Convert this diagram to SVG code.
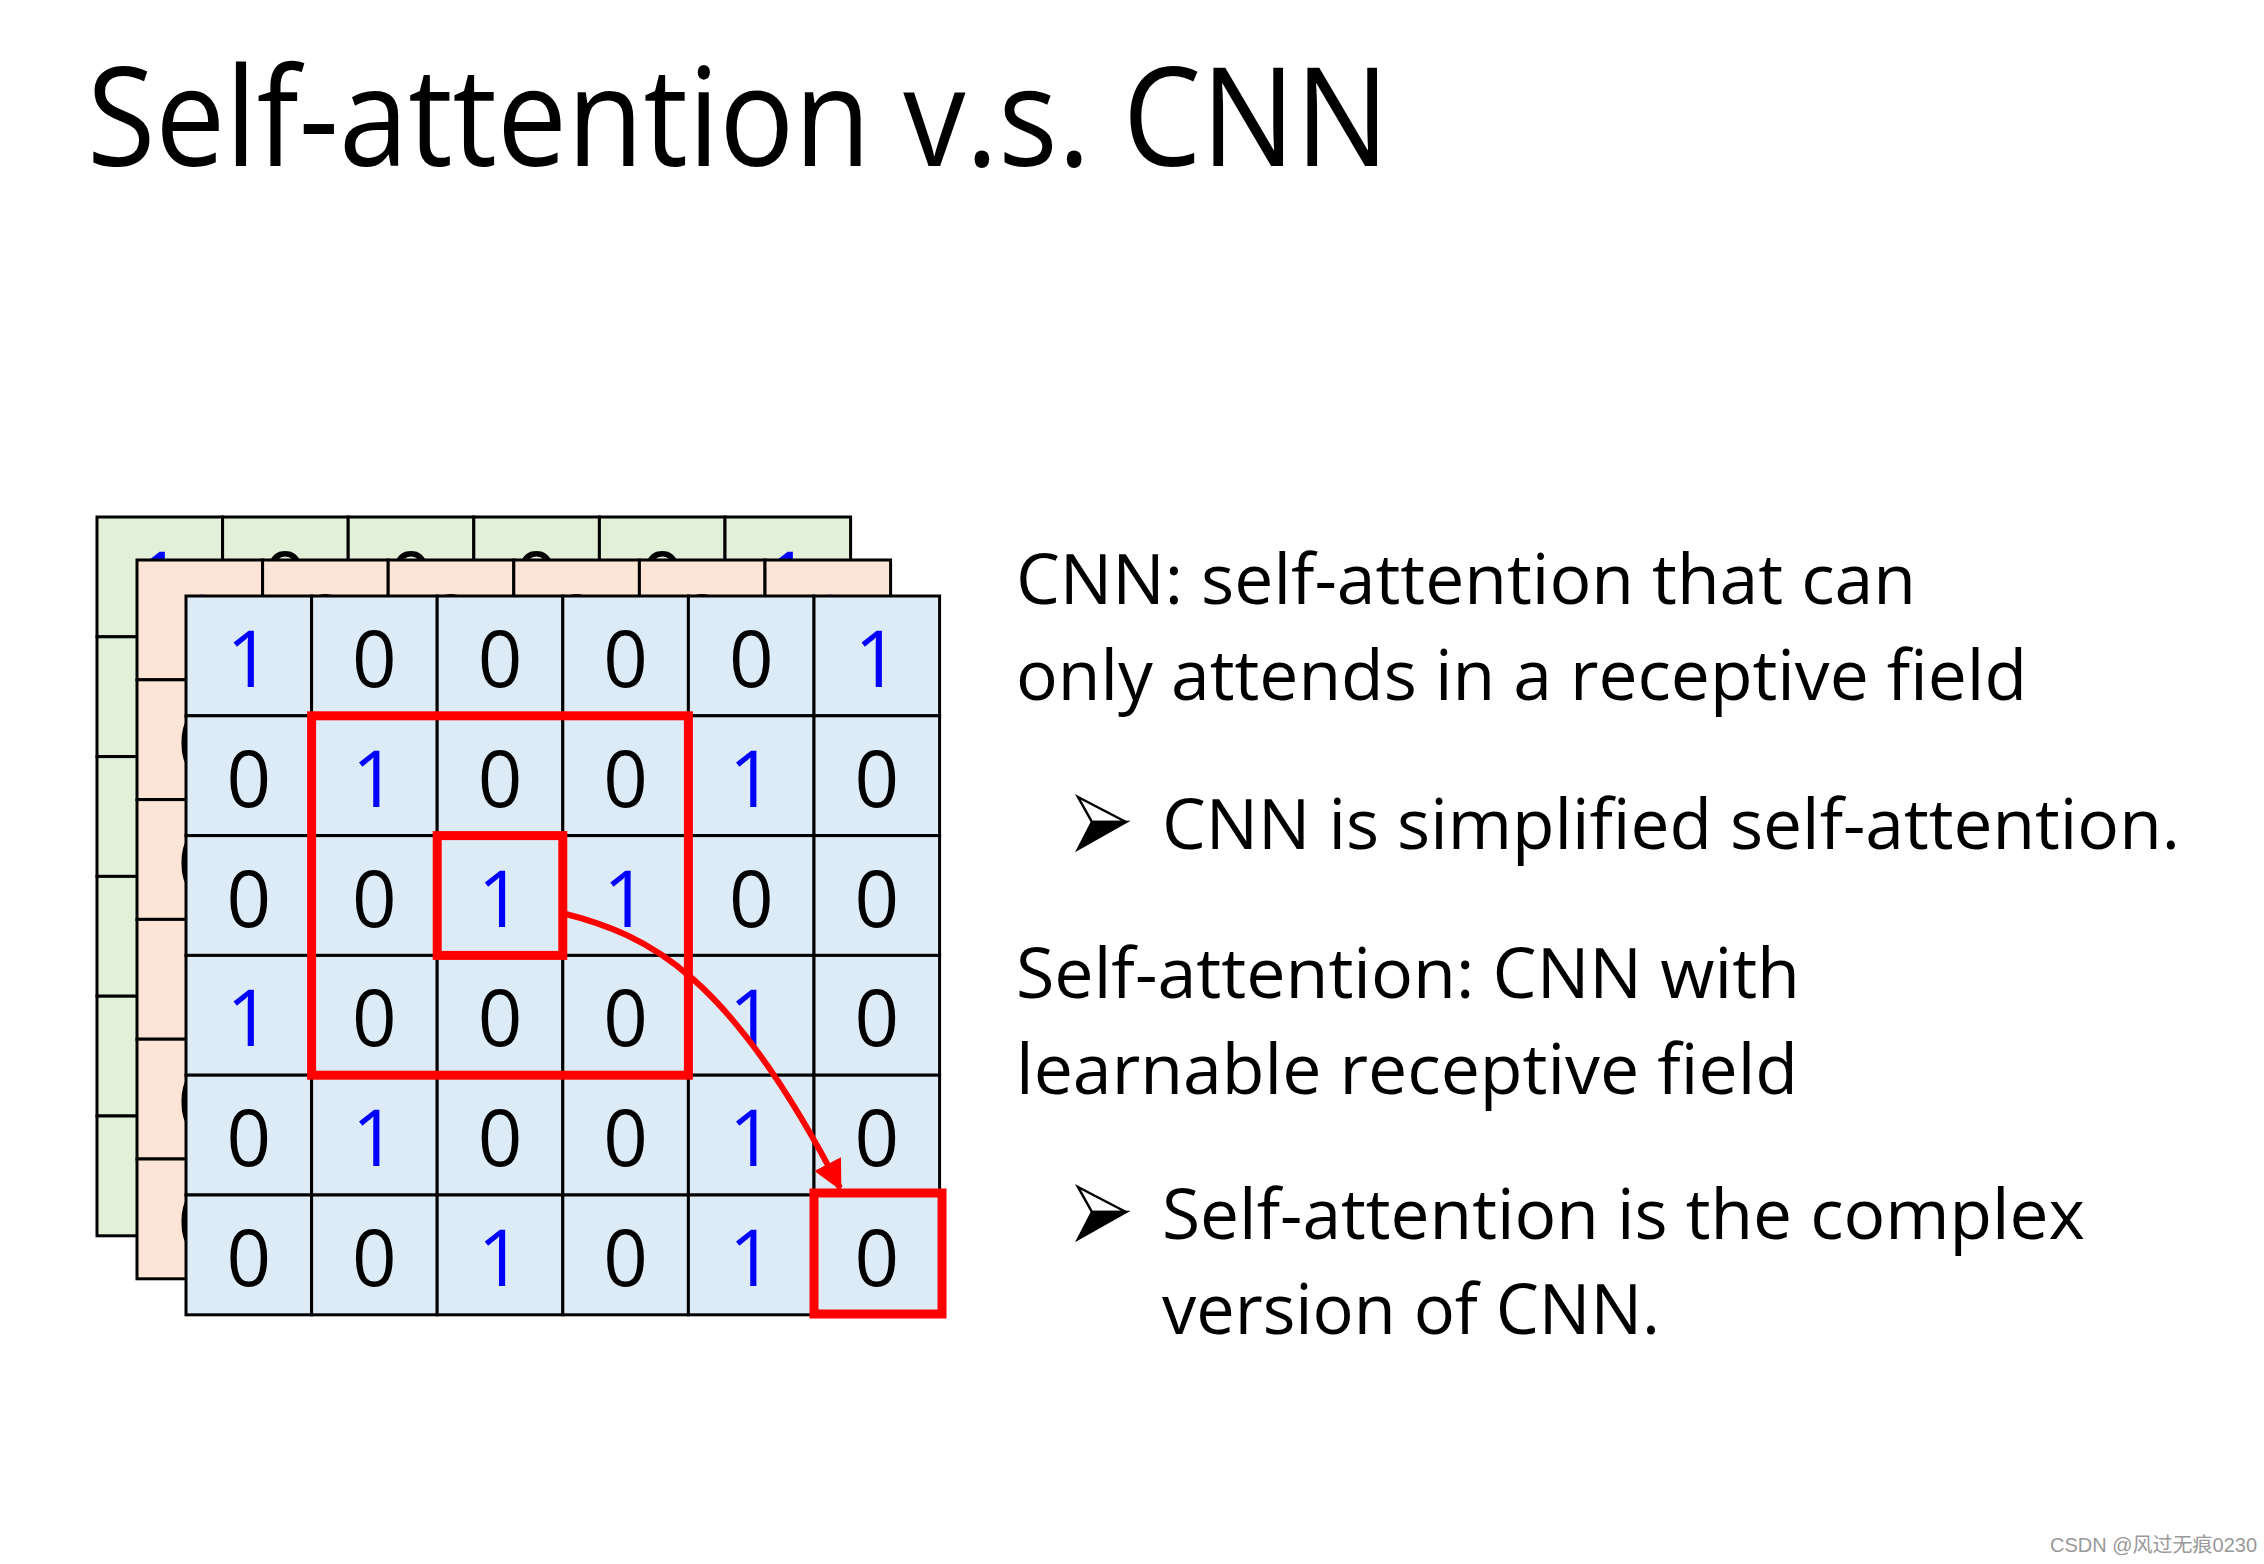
<svg xmlns="http://www.w3.org/2000/svg" width="2264" height="1564" viewBox="0 0 2264 1564">
<style>
.t{font-family:"Open Sans","Liberation Sans",sans-serif;fill:#000}
.d{font-family:"Open Sans","Liberation Sans",sans-serif;font-size:78px;text-anchor:middle}
.b{fill:#0000ff}.k{fill:#000}
.r{fill:none;stroke:#ff0000;stroke-width:9}
</style>
<defs>
<marker id="ah" viewBox="0 0 10 10" refX="9" refY="5" markerWidth="5" markerHeight="5" orient="auto"><path d="M0,0 L10,5 L0,10 z" fill="#ff0000"/></marker>
<g id="cells" stroke="#000" stroke-width="3">
<rect x="0" y="0" width="125.6" height="119.8"/><rect x="125.6" y="0" width="125.6" height="119.8"/><rect x="251.2" y="0" width="125.6" height="119.8"/><rect x="376.8" y="0" width="125.6" height="119.8"/><rect x="502.4" y="0" width="125.6" height="119.8"/><rect x="628" y="0" width="125.6" height="119.8"/>
</g>
<g id="grid">
<use href="#cells" y="0"/><use href="#cells" y="119.8"/><use href="#cells" y="239.6"/><use href="#cells" y="359.4"/><use href="#cells" y="479.2"/><use href="#cells" y="599"/>
</g>
<g id="nums">
<text class="d b" x="62.8" y="91">1</text><text class="d k" x="188.4" y="91">0</text><text class="d k" x="314" y="91">0</text><text class="d k" x="439.6" y="91">0</text><text class="d k" x="565.2" y="91">0</text><text class="d b" x="690.8" y="91">1</text>
<text class="d k" x="62.8" y="210.8">0</text><text class="d b" x="188.4" y="210.8">1</text><text class="d k" x="314" y="210.8">0</text><text class="d k" x="439.6" y="210.8">0</text><text class="d b" x="565.2" y="210.8">1</text><text class="d k" x="690.8" y="210.8">0</text>
<text class="d k" x="62.8" y="330.6">0</text><text class="d k" x="188.4" y="330.6">0</text><text class="d b" x="314" y="330.6">1</text><text class="d b" x="439.6" y="330.6">1</text><text class="d k" x="565.2" y="330.6">0</text><text class="d k" x="690.8" y="330.6">0</text>
<text class="d b" x="62.8" y="450.4">1</text><text class="d k" x="188.4" y="450.4">0</text><text class="d k" x="314" y="450.4">0</text><text class="d k" x="439.6" y="450.4">0</text><text class="d b" x="565.2" y="450.4">1</text><text class="d k" x="690.8" y="450.4">0</text>
<text class="d k" x="62.8" y="570.2">0</text><text class="d b" x="188.4" y="570.2">1</text><text class="d k" x="314" y="570.2">0</text><text class="d k" x="439.6" y="570.2">0</text><text class="d b" x="565.2" y="570.2">1</text><text class="d k" x="690.8" y="570.2">0</text>
<text class="d k" x="62.8" y="690">0</text><text class="d k" x="188.4" y="690">0</text><text class="d b" x="314" y="690">1</text><text class="d k" x="439.6" y="690">0</text><text class="d b" x="565.2" y="690">1</text><text class="d k" x="690.8" y="690">0</text>
</g>
</defs>
<rect width="2264" height="1564" fill="#fff"/>
<text class="t" x="87" y="166" font-size="137" textLength="1302" lengthAdjust="spacingAndGlyphs">Self-attention v.s. CNN</text>
<g id="layer-green" transform="translate(97,517)"><use href="#grid" fill="#e2efd9"/><use href="#nums"/></g>
<g id="layer-orange" transform="translate(137,560)"><use href="#grid" fill="#fce4d6"/><use href="#nums"/></g>
<g id="layer-blue" transform="translate(186,596)"><use href="#grid" fill="#ddebf7"/><use href="#nums"/></g>
<g id="receptive-field"><rect class="r" x="311.6" y="715.8" width="376.8" height="359.4"/></g>
<g id="center-cell"><rect class="r" x="437.2" y="835.6" width="125.6" height="119.8"/></g>
<g id="target-cell"><rect class="r" x="814" y="1193" width="128" height="121"/></g>
<g id="connectors"><path d="M562,913 C650,935 730,975 840,1188" fill="none" stroke="#ff0000" stroke-width="6" marker-end="url(#ah)"/></g>
<g id="text">
<text class="t" x="1016" y="604" font-size="69" textLength="900" lengthAdjust="spacingAndGlyphs">CNN: self-attention that can</text>
<text class="t" x="1016" y="700" font-size="69" textLength="1011" lengthAdjust="spacingAndGlyphs">only attends in a receptive field</text>
<g id="bullet1"><polygon points="1078,797 1126,822 1092,822" fill="#fff" stroke="#000" stroke-width="2.5"/><polygon points="1092,822 1126,822 1078,849" fill="#000" stroke="#000" stroke-width="2.5"/></g>
<text class="t" x="1162" y="849" font-size="69" textLength="1018" lengthAdjust="spacingAndGlyphs">CNN is simplified self-attention.</text>
<text class="t" x="1016" y="998" font-size="69" textLength="784" lengthAdjust="spacingAndGlyphs">Self-attention: CNN with</text>
<text class="t" x="1016" y="1094" font-size="69" textLength="782" lengthAdjust="spacingAndGlyphs">learnable receptive field</text>
<g id="bullet2"><polygon points="1078,1187 1126,1212 1092,1212" fill="#fff" stroke="#000" stroke-width="2.5"/><polygon points="1092,1212 1126,1212 1078,1239" fill="#000" stroke="#000" stroke-width="2.5"/></g>
<text class="t" x="1162" y="1239" font-size="69" textLength="923" lengthAdjust="spacingAndGlyphs">Self-attention is the complex</text>
<text class="t" x="1162" y="1334" font-size="69" textLength="498" lengthAdjust="spacingAndGlyphs">version of CNN.</text>
<text x="2050" y="1552" font-size="20" fill="#999" font-family="'Liberation Sans','Noto Sans CJK SC',sans-serif">CSDN @风过无痕0230</text>
</g>
</svg>
